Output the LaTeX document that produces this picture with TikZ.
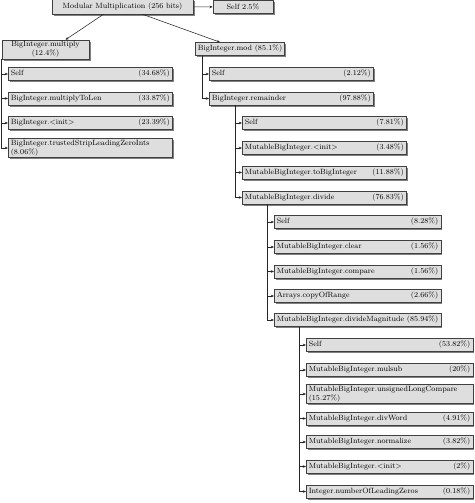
\documentclass[tikz,border=0pt]{standalone}
\usetikzlibrary{arrows.meta, positioning, shadows}

\tikzset{
  fnbox/.style={draw=black!75, fill=black!13, line width=0.6pt, inner xsep=2.5pt, inner ysep=1.5pt,
    minimum height=13pt, font=\fontsize{7.6}{8.8}\selectfont,
    drop shadow={shadow xshift=1.6pt, shadow yshift=-1.6pt, fill=black!50, opacity=1}},
  fnrow/.style={fnbox, anchor=west, text width=159pt, align=left},
  fnwide/.style={fnrow, text width=161.5pt},
  callarr/.style={-{Stealth[length=3.2pt, width=2.6pt]}, line width=0.55pt, black!85},
}

\begin{document}
\begin{tikzpicture}[x=1pt, y=-1pt]
  \useasboundingbox (0, 0) rectangle (474, 503);

  % Root and its own share
  \node[fnbox, minimum width=141pt, minimum height=15pt] (root) at (122.5, 6.5) {Modular Multiplication (256 bits)};
  \node[fnbox, minimum width=60pt] (rootself) at (243, 7) {Self 2.5\%};
  \draw[callarr] (root) -- (rootself);

  % First level
  \node[fnbox, text width=82pt, align=center] (mul) at (45.5, 49.5) {BigInteger.multiply\\(12.4\%)};
  \node[fnbox, minimum width=88pt] (mod) at (240, 49) {BigInteger.mod (85.1\%)};
  \draw[callarr] ([xshift=-19pt]root.south) -- ([xshift=20pt]mul.north);
  \draw[callarr] ([xshift=20pt]root.south) -- ([xshift=-20pt]mod.north);

  % Below BigInteger.multiply
  \node[fnrow] (mulself) at (8, 74) {Self\hfill(34.68\%)};
  \node[fnrow] (multolen) at (8, 98.5) {BigInteger.multiplyToLen\hfill(33.87\%)};
  \node[fnrow] (mulinit) at (8, 123) {BigInteger.\textless init\textgreater\hfill(23.39\%)};
  \node[fnrow] (mulstrip) at (8, 148) {BigInteger.trustedStripLeadingZeroInts\\(8.06\%)};

  \coordinate (multrunk) at ([xshift=-7pt]mulself.west);
  \draw[callarr] (mul.south -| multrunk) |- (mulself.west);
  \draw[callarr] (mul.south -| multrunk) |- (multolen.west);
  \draw[callarr] (mul.south -| multrunk) |- (mulinit.west);
  \draw[callarr] (mul.south -| multrunk) |- (mulstrip.west);

  % Below BigInteger.mod
  \node[fnrow] (modself) at (209, 74) {Self\hfill(2.12\%)};
  \node[fnrow] (rem) at (209, 98.5) {BigInteger.remainder\hfill(97.88\%)};

  \coordinate (modtrunk) at ([xshift=-7pt]modself.west);
  \draw[callarr] (mod.south -| modtrunk) |- (modself.west);
  \draw[callarr] (mod.south -| modtrunk) |- (rem.west);

  % Below BigInteger.remainder
  \node[fnrow] (remself) at (242, 123) {Self\hfill(7.81\%)};
  \node[fnrow] (reminit) at (242, 148) {MutableBigInteger.\textless init\textgreater\hfill(3.48\%)};
  \node[fnrow] (remtobig) at (242, 172.5) {MutableBigInteger.toBigInteger\hfill(11.88\%)};
  \node[fnrow] (div) at (242, 197.5) {MutableBigInteger.divide\hfill(76.83\%)};

  \coordinate (remtrunk) at ([xshift=-7pt]remself.west);
  \draw[callarr] (rem.south -| remtrunk) |- (remself.west);
  \draw[callarr] (rem.south -| remtrunk) |- (reminit.west);
  \draw[callarr] (rem.south -| remtrunk) |- (remtobig.west);
  \draw[callarr] (rem.south -| remtrunk) |- (div.west);

  % Below MutableBigInteger.divide
  \node[fnwide] (divself) at (274, 222) {Self\hfill(8.28\%)};
  \node[fnwide] (divclear) at (274, 247) {MutableBigInteger.clear\hfill(1.56\%)};
  \node[fnwide] (divcmp) at (274, 271.5) {MutableBigInteger.compare\hfill(1.56\%)};
  \node[fnwide] (divcopy) at (274, 296) {Arrays.copyOfRange\hfill(2.66\%)};
  \node[fnwide] (divmag) at (274, 320) {MutableBigInteger.divideMagnitude\hfill(85.94\%)};

  \coordinate (divtrunk) at ([xshift=-7pt]divself.west);
  \draw[callarr] (div.south -| divtrunk) |- (divself.west);
  \draw[callarr] (div.south -| divtrunk) |- (divclear.west);
  \draw[callarr] (div.south -| divtrunk) |- (divcmp.west);
  \draw[callarr] (div.south -| divtrunk) |- (divcopy.west);
  \draw[callarr] (div.south -| divtrunk) |- (divmag.west);

  % Below MutableBigInteger.divideMagnitude
  \node[fnwide] (magself) at (306, 345) {Self\hfill(53.82\%)};
  \node[fnwide] (magmulsub) at (306, 370) {MutableBigInteger.mulsub\hfill(20\%)};
  \node[fnwide] (magulc) at (306, 394) {MutableBigInteger.unsignedLongCompare\\(15.27\%)};
  \node[fnwide] (magdivw) at (306, 418.5) {MutableBigInteger.divWord\hfill(4.91\%)};
  \node[fnwide] (magnorm) at (306, 442) {MutableBigInteger.normalize\hfill(3.82\%)};
  \node[fnwide] (maginit) at (306, 466.5) {MutableBigInteger.\textless init\textgreater\hfill(2\%)};
  \node[fnwide] (magnlz) at (306, 491.5) {Integer.numberOfLeadingZeros\hfill(0.18\%)};

  \coordinate (magtrunk) at ([xshift=-7pt]magself.west);
  \draw[callarr] (divmag.south -| magtrunk) |- (magself.west);
  \draw[callarr] (divmag.south -| magtrunk) |- (magmulsub.west);
  \draw[callarr] (divmag.south -| magtrunk) |- (magulc.west);
  \draw[callarr] (divmag.south -| magtrunk) |- (magdivw.west);
  \draw[callarr] (divmag.south -| magtrunk) |- (magnorm.west);
  \draw[callarr] (divmag.south -| magtrunk) |- (maginit.west);
  \draw[callarr] (divmag.south -| magtrunk) |- (magnlz.west);
\end{tikzpicture}
\end{document}
